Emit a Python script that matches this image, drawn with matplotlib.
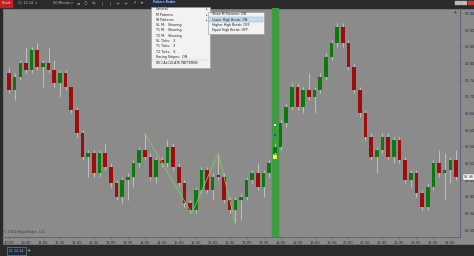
import matplotlib
matplotlib.use("Agg")
import matplotlib.pyplot as plt
from matplotlib.patches import Rectangle

opens  = [52.77,52.72,52.76,52.80,52.78,52.84,52.79,52.80,52.78,52.74,52.77,52.73,52.66,52.59,52.52,52.53,52.47,52.53,52.49,52.44,
          52.40,52.45,52.46,52.50,52.54,52.52,52.46,52.51,52.50,52.55,52.49,52.44,52.38,52.36,52.42,52.48,52.42,52.46,52.46,52.39,
          52.36,52.39,52.40,52.45,52.47,52.43,52.47,52.53,52.55,52.62,52.67,52.73,52.67,52.72,52.70,52.72,52.76,52.82,52.86,52.91,
          52.86,52.79,52.72,52.65,52.58,52.52,52.54,52.58,52.52,52.57,52.51,52.45,52.47,52.41,52.37,52.43,52.50,52.47,52.48,52.51]
closes = [52.72,52.76,52.80,52.78,52.84,52.79,52.80,52.78,52.74,52.77,52.73,52.66,52.59,52.52,52.53,52.47,52.53,52.49,52.44,52.40,
          52.45,52.46,52.50,52.54,52.52,52.46,52.51,52.50,52.55,52.49,52.44,52.38,52.36,52.42,52.48,52.42,52.46,52.46,52.39,52.36,
          52.39,52.40,52.45,52.47,52.43,52.47,52.50,52.55,52.62,52.67,52.73,52.67,52.72,52.70,52.72,52.76,52.82,52.86,52.91,52.86,
          52.79,52.72,52.65,52.58,52.52,52.54,52.58,52.52,52.57,52.51,52.45,52.47,52.41,52.37,52.43,52.50,52.47,52.48,52.51,52.46]
highs  = [52.79,52.77,52.81,52.85,52.85,52.86,52.81,52.85,52.81,52.78,52.78,52.73,52.67,52.60,52.54,52.54,52.54,52.56,52.50,52.45,
          52.46,52.47,52.51,52.55,52.59,52.53,52.52,52.52,52.57,52.56,52.50,52.45,52.39,52.43,52.49,52.49,52.47,52.53,52.47,52.40,
          52.40,52.41,52.46,52.48,52.50,52.48,52.51,52.56,52.63,52.68,52.74,52.74,52.73,52.77,52.73,52.77,52.83,52.87,52.92,52.92,
          52.87,52.80,52.73,52.66,52.59,52.55,52.59,52.59,52.58,52.58,52.52,52.48,52.48,52.42,52.44,52.51,52.54,52.53,52.52,52.54]
lows   = [52.71,52.69,52.75,52.77,52.77,52.78,52.73,52.77,52.73,52.70,52.72,52.65,52.58,52.51,52.46,52.46,52.46,52.48,52.43,52.39,
          52.38,52.39,52.43,52.49,52.51,52.45,52.44,52.49,52.49,52.48,52.43,52.37,52.35,52.35,52.41,52.41,52.39,52.45,52.38,52.35,
          52.32,52.33,52.39,52.44,52.42,52.40,52.46,52.52,52.54,52.61,52.66,52.66,52.65,52.69,52.65,52.71,52.75,52.81,52.85,52.85,
          52.78,52.71,52.64,52.57,52.51,52.47,52.53,52.51,52.50,52.50,52.44,52.43,52.40,52.36,52.36,52.42,52.46,52.39,52.44,52.45]
price_ticks = [52.95,52.90,52.85,52.80,52.75,52.70,52.65,52.60,52.55,52.50,52.45,52.40,52.35,52.30]
date_labels = ["10:00","10:30","11:00","11:30","12:00","12:30","13:00","13:30","14:00","14:30","15:00","15:30","16:00","16:30",
               "17:00","17:30","18:00","18:30","19:00","19:30","20:00","20:30","21:00","21:30","22:00","22:30","23:00"]
zig_idx = [24, 32.3, 37, 40]
zig_price = [52.59, 52.35, 52.53, 52.32]
band_idx = 47
marker_prices = [52.615, 52.585, 52.52]
menu_items = ["General", "M Patterns", "W Patterns", "SL M:   Showing", "T1 M:   Showing", "T2 M:   Showing",
              "SL Ticks:   3", "T1 Ticks:   3", "T2 Ticks:   6", "Racing Stripes:  ON", "RE-CALCULATE PATTERNS"]
sub_items = ["Show M Patterns: ON", "Lower High Break: ON", "Higher High Break: OFF", "Equal High Break: OFF"]

W, H = 474, 256
fig = plt.figure(figsize=(W/100, H/100), dpi=100)
bg = fig.add_axes([0, 0, 1, 1])
bg.set_xlim(0, W); bg.set_ylim(H, 0); bg.axis("off")
GRAY = "#8b8b8b"
DARK = "#2a2a2a"
bg.add_patch(Rectangle((0, 0), W, H, color=GRAY))
bg.add_patch(Rectangle((0, 0), W, 8, color=DARK))
bg.add_patch(Rectangle((0, 245), W, 11, color=DARK))
bg.add_patch(Rectangle((0, 0), 2, H, color=DARK))
# toolbar
bg.add_patch(Rectangle((0, 0), 12, 6.5, color="#c42020"))
bg.text(6, 3.3, "Chart", color="white", fontsize=2.4, ha="center", va="center")
bg.text(18, 3.3, "CL 12-14  \u25be", color="#bbbbbb", fontsize=2.4, va="center")
bg.text(53, 3.3, "60 Minute \u25be", color="#bbbbbb", fontsize=2.4, va="center")
for k, s in enumerate(["\u2261", "\u25cb", "\u21c6", "|", "|", "\u2192", "\u2192", "\u2197", "\u2605"]):
    bg.text(78 + k*8, 3.3, s, color="#aaaaaa", fontsize=3, va="center", ha="center")
bg.add_patch(Rectangle((151, 0), 24, 4.2, color="#1d2b50"))
bg.text(153, 2, "Pattern Finder", color="white", fontsize=2.3, va="center")
for k, c in enumerate(["#bbbbbb", "#bbbbbb", "#cc3333"]):
    bg.add_patch(Rectangle((455 + k*6.5, 0.5), 5, 3.5, color=c))
# bottom bar
bg.add_patch(Rectangle((7, 246.5), 19, 8, facecolor="#1c2a3c", edgecolor="#8899aa", lw=0.4))
bg.text(16.5, 250.5, "CL 12-14", color="#cccccc", fontsize=2.3, ha="center", va="center")
bg.text(29, 250.5, "+", color="#cccccc", fontsize=3.5, ha="center", va="center")
# axis separators
bg.plot([460, 460], [8, 237], color="#55607a", lw=0.6)
bg.plot([2, 460], [237, 237], color="#55607a", lw=0.6)
bg.text(3, 232, "\u00a9 2014 NinjaTrader, LLC", color="#3a3a3a", fontsize=2.4, va="center")
bg.text(455, 13, "+", color="#333333", fontsize=4, ha="center", va="center")

x0, x1 = 2, 460
y0, y1 = 8, 237
ax = fig.add_axes([x0/W, 1-y1/H, (x1-x0)/W, (y1-y0)/H])
ax.set_facecolor("none")
n = len(opens)
sp = 5.658
ax.set_xlim((x0-9)/sp, (x1-9)/sp)
ax.set_ylim(52.279, 52.966)
ax.axvspan(band_idx-0.55, band_idx+0.55, color="#3f9b3f", zorder=1)
ax.plot(zig_idx, zig_price, color="#7ccc5c", lw=0.6, zorder=4)
for i in range(n):
    o, c = opens[i], closes[i]
    col = "#0e780e" if c > o else "#9e0c0c"
    ax.vlines(i, lows[i], highs[i], color="#c8c8c8", lw=0.6, zorder=2)
    h = abs(c - o) if abs(c - o) > 0.004 else 0.004
    ax.bar(i, h, bottom=min(o, c), width=0.64, color=col, zorder=3)
ax.scatter([band_idx], [marker_prices[0]], s=3, color="#e8e8e8", marker="s", zorder=5, lw=0)
ax.scatter([band_idx], [marker_prices[1]], s=3, color="#2050c0", marker="s", zorder=5, lw=0)
ax.scatter([band_idx], [marker_prices[2]], s=12, color="#f0f050", marker="s", zorder=5, lw=0)
for s in ax.spines.values():
    s.set_visible(False)
ax.yaxis.tick_right()
ax.set_yticks(price_ticks)
ax.set_yticklabels([f"{p:.2f}" for p in price_ticks])
ax.set_xticks(range(0, n, 3))
ax.set_xticklabels(date_labels[:len(range(0, n, 3))])
ax.tick_params(axis="y", length=1.5, width=0.4, color="#55607a", labelsize=2.6, labelcolor="#1e2840", pad=2)
ax.tick_params(axis="x", length=1.5, width=0.4, color="#55607a", labelsize=2.6, labelcolor="#1e2840", pad=1.5)
last = closes[-1]
ax.annotate(f"{last:.2f}", xy=(1.0, last), xycoords=("axes fraction", "data"), xytext=(2.5, 0),
            textcoords="offset points", fontsize=2.6, va="center", color="#111111",
            bbox=dict(boxstyle="square,pad=0.25", fc="white", ec="#666666", lw=0.3), zorder=6, annotation_clip=False)

# menus
bg.add_patch(Rectangle((151, 6.5), 59, 61, facecolor="#f2f2f2", edgecolor="#9a9a9a", lw=0.4, zorder=7))
ys = [9.3, 14.6, 19.9, 25.2, 30.5, 35.8, 41.1, 46.4, 51.7, 57.0, 62.8]
for k, t in enumerate(menu_items):
    bg.text(156, ys[k], t, fontsize=2.3, color="#222222", va="center", zorder=8)
    if k < 3:
        bg.text(207, ys[k], "\u25b8", fontsize=2.3, color="#444444", va="center", ha="center", zorder=8)
bg.plot([152, 209], [60.2, 60.2], color="#c0c0c0", lw=0.3, zorder=8)
bg.add_patch(Rectangle((208, 11.5), 56, 22, facecolor="#f2f2f2", edgecolor="#9a9a9a", lw=0.4, zorder=7))
bg.add_patch(Rectangle((209, 17.2), 54, 5.2, facecolor="#c5dcec", edgecolor="#7fb0d8", lw=0.3, zorder=8))
for k, t in enumerate(sub_items):
    bg.text(212, 14.4 + k*5.3, t, fontsize=2.3, color="#222222", va="center", zorder=9)

fig.savefig("out.png", dpi=100)
